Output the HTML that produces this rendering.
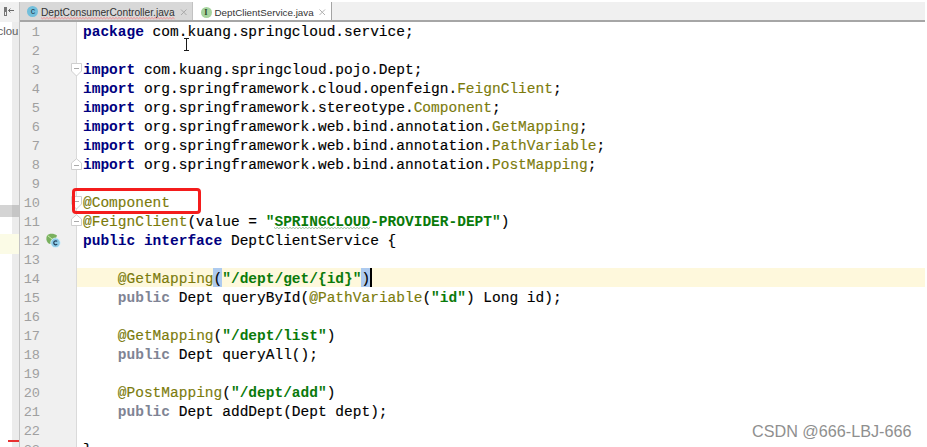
<!DOCTYPE html>
<html><head><meta charset="utf-8">
<style>
*{margin:0;padding:0;box-sizing:border-box}
html,body{width:927px;height:447px;overflow:hidden;background:#fff}
body{position:relative;font-family:"Liberation Sans",sans-serif}
.abs{position:absolute}
#tabbar{left:0;top:0;width:927px;height:22px;background:#fff}
#lphead{left:0;top:2px;width:19px;height:20px;background:#f0f0f0}
#tab1{left:19px;top:2px;width:174px;height:18px;background:#d8d8d8;border-right:1px solid #c2c2c2}
#tab2{left:193px;top:2px;width:139px;height:18px;background:#fff;border-right:1px solid #a4a4a4}
#tabrest{left:332px;top:2px;width:593px;height:18px;background:#f0f0f0}
#tabline{left:19px;top:20px;width:906px;height:2px;background:#a6a6a6}
.tabtxt{font-size:10.1px;color:#333;top:7px;white-space:nowrap;line-height:12px}
#lp{left:0;top:22px;width:12px;height:425px;background:#fff}
#lpstrip{left:12px;top:22px;width:7px;height:425px;background:#ececec}
#gutterline{left:19px;top:2px;width:1px;height:445px;background:#c4c4c4}
#gutter{left:20px;top:22px;width:56px;height:425px;background:#f0f0f0}
#gborder{left:76px;top:22px;width:1px;height:425px;background:#dadada}
#caretrow{left:77px;top:268px;width:848px;height:19px;background:#fef8dc}
.ln{position:absolute;left:0px;width:40px;padding-top:0.5px;text-align:right;font-family:"Liberation Mono",monospace;font-size:13.6px;color:#a0a0a0;height:19px;line-height:19px}
.cl{position:absolute;left:83px;white-space:pre;font-family:"Liberation Mono",monospace;font-size:14.5px;color:#000;height:19px;line-height:19px;-webkit-text-stroke:0.15px currentColor}
.kw{color:#000080;font-weight:bold;-webkit-text-stroke:0}
.gr{color:#7f8494;font-weight:bold;-webkit-text-stroke:0}
.an{color:#7b7b0c}
.st{color:#0a7a0a;font-weight:bold;-webkit-text-stroke:0}
</style></head><body>
<div class="abs" id="tabbar"></div>
<div class="abs" id="lphead"></div>
<div class="abs" id="tab1"></div>
<div class="abs" id="tab2"></div>
<div class="abs" id="tabrest"></div>
<div class="abs" id="tabline"></div>
<!-- header icon -->
<div class="abs" style="left:4px;top:7px;width:3px;height:9px;border:1px solid #777;background:linear-gradient(#777 0 55%,#f0f0f0 55%)"></div>
<svg class="abs" style="left:7px;top:7px" width="8" height="8"><path d="M1.5 3.5H7M1.5 3.5L3.4 1.6M1.5 3.5L3.4 5.4" stroke="#6a6a6a" stroke-width="1" fill="none"/></svg>
<!-- tab1 -->
<div class="abs" style="left:27px;top:6px;width:11px;height:11px;border-radius:50%;background:#72bfdc"></div>
<div class="abs" style="left:29px;top:5px;width:8px;font-size:9px;color:#1a3a4a;text-align:center;line-height:12px">c</div>
<div class="abs tabtxt" style="left:41px;font-size:10.2px">DeptConsumerController.java</div>
<svg class="abs" style="left:41px;top:16px" width="135" height="4"><path d="M0.0 1.2 L1.5 3.2 L3.0 1.2 L4.5 3.2 L6.0 1.2 L7.5 3.2 L9.0 1.2 L10.5 3.2 L12.0 1.2 L13.5 3.2 L15.0 1.2 L16.5 3.2 L18.0 1.2 L19.5 3.2 L21.0 1.2 L22.5 3.2 L24.0 1.2 L25.5 3.2 L27.0 1.2 L28.5 3.2 L30.0 1.2 L31.5 3.2 L33.0 1.2 L34.5 3.2 L36.0 1.2 L37.5 3.2 L39.0 1.2 L40.5 3.2 L42.0 1.2 L43.5 3.2 L45.0 1.2 L46.5 3.2 L48.0 1.2 L49.5 3.2 L51.0 1.2 L52.5 3.2 L54.0 1.2 L55.5 3.2 L57.0 1.2 L58.5 3.2 L60.0 1.2 L61.5 3.2 L63.0 1.2 L64.5 3.2 L66.0 1.2 L67.5 3.2 L69.0 1.2 L70.5 3.2 L72.0 1.2 L73.5 3.2 L75.0 1.2 L76.5 3.2 L78.0 1.2 L79.5 3.2 L81.0 1.2 L82.5 3.2 L84.0 1.2 L85.5 3.2 L87.0 1.2 L88.5 3.2 L90.0 1.2 L91.5 3.2 L93.0 1.2 L94.5 3.2 L96.0 1.2 L97.5 3.2 L99.0 1.2 L100.5 3.2 L102.0 1.2 L103.5 3.2 L105.0 1.2 L106.5 3.2 L108.0 1.2 L109.5 3.2 L111.0 1.2 L112.5 3.2 L114.0 1.2 L115.5 3.2 L117.0 1.2 L118.5 3.2 L120.0 1.2 L121.5 3.2 L123.0 1.2 L124.5 3.2 L126.0 1.2 L127.5 3.2 L129.0 1.2 L130.5 3.2 L132.0 1.2 L133.5 3.2" stroke="#f29a9a" stroke-width="1" fill="none"/></svg>
<svg class="abs" style="left:180px;top:9px" width="8" height="7"><path d="M1 0.5L6.5 6M6.5 0.5L1 6" stroke="#a8a8a8" stroke-width="1" fill="none"/></svg>
<!-- tab2 -->
<div class="abs" style="left:200.5px;top:7px;width:11px;height:11px;border-radius:50%;background:#a6d49e"></div>
<div class="abs" style="left:202px;top:6px;width:8px;font-size:8.5px;font-family:'Liberation Serif',serif;font-weight:bold;color:#2d4a2a;text-align:center;line-height:12px">I</div>
<div class="abs tabtxt" style="left:214.5px;font-size:9.8px">DeptClientService.java</div>
<svg class="abs" style="left:319px;top:9px" width="7" height="7"><path d="M0.5 0.5L6 6M6 0.5L0.5 6" stroke="#b0b0b0" stroke-width="1" fill="none"/></svg>

<!-- left panel -->
<div class="abs" id="lp"></div>
<div class="abs" id="lpstrip"></div>
<div class="abs" style="left:-2.5px;top:25px;font-size:11.4px;color:#606060;line-height:12px">clou</div>
<div class="abs" style="left:0;top:205px;width:12px;height:12px;background:#d4d4d4"></div>
<div class="abs" style="left:12px;top:205px;width:7px;height:12px;background:#c6c6c6"></div>
<div class="abs" style="left:0;top:234px;width:19px;height:20px;background:#fbfbe6"></div>
<div class="abs" style="left:8px;top:440px;width:11px;height:1.5px;background:#e83030"></div>

<div class="abs" id="gutterline"></div>
<div class="abs" id="gutter"></div>
<div class="abs" id="gborder"></div>
<div class="abs" id="caretrow"></div>
<!-- brace highlights -->
<div class="abs" style="left:213px;top:268px;width:9px;height:19px;background:#adcaef"></div>
<div class="abs" style="left:361px;top:268px;width:8.5px;height:19px;background:#adcaef"></div>
<div class="abs" style="left:369.5px;top:268px;width:2px;height:19px;background:#000"></div>

<div class="ln" style="top:22px">1</div>
<div class="ln" style="top:41px">2</div>
<div class="ln" style="top:60px">3</div>
<div class="ln" style="top:79px">4</div>
<div class="ln" style="top:98px">5</div>
<div class="ln" style="top:117px">6</div>
<div class="ln" style="top:136px">7</div>
<div class="ln" style="top:155px">8</div>
<div class="ln" style="top:174px">9</div>
<div class="ln" style="top:193px">10</div>
<div class="ln" style="top:212px">11</div>
<div class="ln" style="top:231px">12</div>
<div class="ln" style="top:250px">13</div>
<div class="ln" style="top:269px">14</div>
<div class="ln" style="top:288px">15</div>
<div class="ln" style="top:307px">16</div>
<div class="ln" style="top:326px">17</div>
<div class="ln" style="top:345px">18</div>
<div class="ln" style="top:364px">19</div>
<div class="ln" style="top:383px">20</div>
<div class="ln" style="top:402px">21</div>
<div class="ln" style="top:421px">22</div>
<div class="ln" style="top:440px">23</div>

<!-- gutter icon line 12 -->
<svg class="abs" style="left:45px;top:232px" width="18" height="16">
 <path d="M2 3.5 C4 1 9 1 12 3.5 L10 9 C8 12 5 13 3 11 C1 9 1 6 2 3.5Z" fill="#79b05e"/>
 <path d="M2.5 3.5 L9.5 9" stroke="#c8f0b0" stroke-width="1" fill="none"/>
 <circle cx="10.5" cy="10.8" r="4.8" fill="#8ccbe8" stroke="#dff2fb" stroke-width="0.8"/>
 <path d="M12.2 9.4 A2 2 0 1 0 12.2 12.2" stroke="#23405a" stroke-width="1.2" fill="none"/>
</svg>

<!-- fold markers -->
<svg class="abs" style="left:71px;top:63px" width="12" height="15"><path d="M0.5 0.5H10.5V8L5.5 13L0.5 8Z" fill="#fff" stroke="#cfcfcf"/><path d="M3 5.5H8" stroke="#aaa"/></svg>
<svg class="abs" style="left:71px;top:158px" width="12" height="13"><path d="M0.5 11.5H10.5V5L5.5 0.8L0.5 5Z" fill="#fff" stroke="#cfcfcf"/><path d="M3 7.5H8" stroke="#aaa"/></svg>
<svg class="abs" style="left:71px;top:196px" width="12" height="15"><path d="M0.5 0.5H10.5V8L5.5 13L0.5 8Z" fill="#fff" stroke="#cfcfcf"/><path d="M3 5.5H8" stroke="#aaa"/></svg>
<svg class="abs" style="left:71px;top:214px" width="12" height="13"><path d="M0.5 11.5H10.5V5L5.5 0.8L0.5 5Z" fill="#fff" stroke="#cfcfcf"/><path d="M3 7.5H8" stroke="#aaa"/></svg>

<div class="cl" style="top:23px"><span class="kw">package</span> com.kuang.springcloud.service;</div>
<div class="cl" style="top:61px"><span class="kw">import</span> com.kuang.springcloud.pojo.Dept;</div>
<div class="cl" style="top:80px"><span class="kw">import</span> org.springframework.cloud.openfeign.<span class="an">FeignClient</span>;</div>
<div class="cl" style="top:99px"><span class="kw">import</span> org.springframework.stereotype.<span class="an">Component</span>;</div>
<div class="cl" style="top:118px"><span class="kw">import</span> org.springframework.web.bind.annotation.<span class="an">GetMapping</span>;</div>
<div class="cl" style="top:137px"><span class="kw">import</span> org.springframework.web.bind.annotation.<span class="an">PathVariable</span>;</div>
<div class="cl" style="top:156px"><span class="kw">import</span> org.springframework.web.bind.annotation.<span class="an">PostMapping</span>;</div>
<div class="cl" style="top:194px"><span class="an">@Component</span></div>
<div class="cl" style="top:213px"><span class="an">@FeignClient</span>(value = <span class="st">"SPRINGCLOUD-PROVIDER-DEPT"</span>)</div>
<div class="cl" style="top:232px"><span class="kw">public interface</span> DeptClientService {</div>
<div class="cl" style="top:270px">    <span class="an">@GetMapping</span>(<span class="st">"/dept/get/{id}"</span>)</div>
<div class="cl" style="top:289px">    <span class="gr">public</span> Dept queryById(<span class="an">@PathVariable</span>(<span class="st">"id"</span>) Long id);</div>
<div class="cl" style="top:327px">    <span class="an">@GetMapping</span>(<span class="st">"/dept/list"</span>)</div>
<div class="cl" style="top:346px">    <span class="gr">public</span> Dept queryAll();</div>
<div class="cl" style="top:384px">    <span class="an">@PostMapping</span>(<span class="st">"/dept/add"</span>)</div>
<div class="cl" style="top:403px">    <span class="gr">public</span> Dept addDept(Dept dept);</div>
<div class="cl" style="top:441px">}</div>

<!-- green typo wave -->
<svg class="abs" style="left:274px;top:226px" width="96" height="4"><path d="M0.0 1.0 L1.6 3.0 L3.2 1.0 L4.8 3.0 L6.4 1.0 L8.0 3.0 L9.6 1.0 L11.2 3.0 L12.8 1.0 L14.4 3.0 L16.0 1.0 L17.6 3.0 L19.2 1.0 L20.8 3.0 L22.4 1.0 L24.0 3.0 L25.6 1.0 L27.2 3.0 L28.8 1.0 L30.4 3.0 L32.0 1.0 L33.6 3.0 L35.2 1.0 L36.8 3.0 L38.4 1.0 L40.0 3.0 L41.6 1.0 L43.2 3.0 L44.8 1.0 L46.4 3.0 L48.0 1.0 L49.6 3.0 L51.2 1.0 L52.8 3.0 L54.4 1.0 L56.0 3.0 L57.6 1.0 L59.2 3.0 L60.8 1.0 L62.4 3.0 L64.0 1.0 L65.6 3.0 L67.2 1.0 L68.8 3.0 L70.4 1.0 L72.0 3.0 L73.6 1.0 L75.2 3.0 L76.8 1.0 L78.4 3.0 L80.0 1.0 L81.6 3.0 L83.2 1.0 L84.8 3.0 L86.4 1.0 L88.0 3.0 L89.6 1.0 L91.2 3.0 L92.8 1.0 L94.4 3.0 L96.0 1.0" stroke="#a8c8a8" stroke-width="1" fill="none"/></svg>

<!-- I-beam mouse cursor -->
<svg class="abs" style="left:183px;top:37px" width="8" height="15"><path d="M1 1.5H6M3.5 1.5V13.5M1 13.5H6" stroke="#1a1a1a" stroke-width="1" fill="none"/></svg>

<div class="abs" style="left:72px;top:188px;width:129px;height:25.5px;border:3.2px solid #f41c1c;border-radius:4px"></div>

<div class="abs" style="left:752px;top:422px;font-size:16.2px;color:#8f8f8f;white-space:nowrap;line-height:18px">CSDN @666-LBJ-666</div>
</body></html>
